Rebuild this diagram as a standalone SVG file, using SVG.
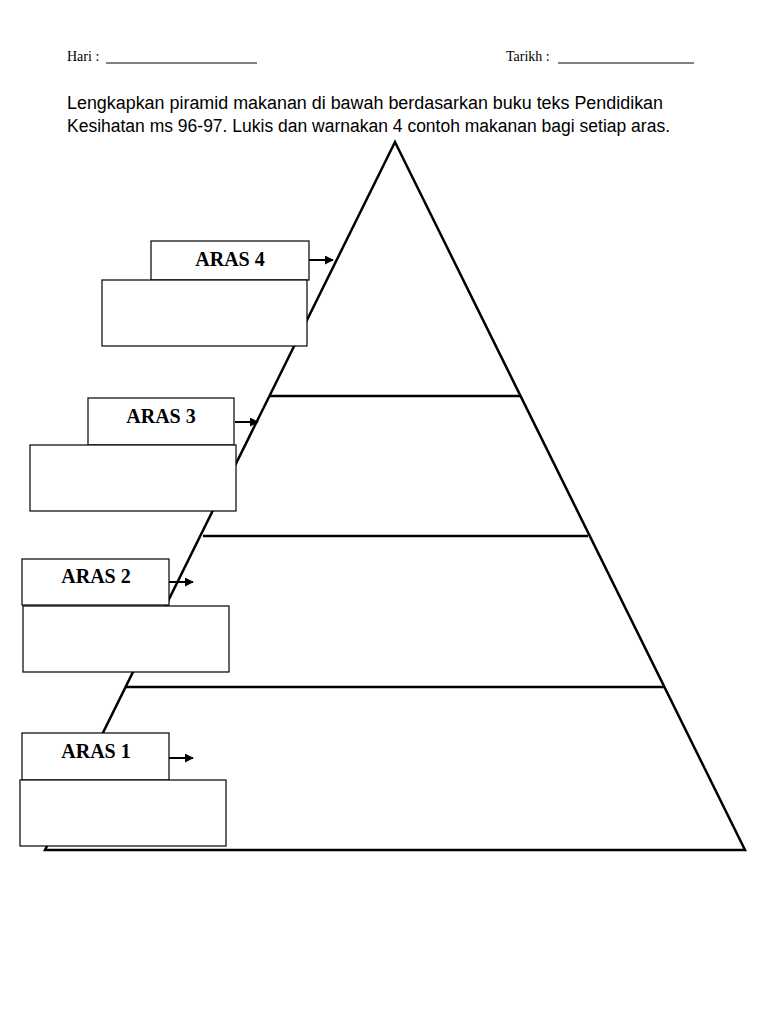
<svg xmlns="http://www.w3.org/2000/svg" width="768" height="1024" viewBox="0 0 768 1024">
<defs>
<style>
.hdr{font-family:"Liberation Serif",serif;font-size:14px;fill:#000}
.ins{font-family:"Liberation Sans",Arial,sans-serif;font-size:18px;fill:#000}
.lbl{font-family:"Liberation Serif",serif;font-size:20px;font-weight:bold;fill:#000;text-anchor:middle}
.box{fill:#fff;stroke:#000;stroke-width:1.2}
.pyr{fill:none;stroke:#000;stroke-width:2.5}
.arr{stroke:#000;stroke-width:2;fill:none}
</style>
<marker id="ah" viewBox="0 0 10 10" refX="9" refY="5" markerWidth="4.5" markerHeight="4.5" orient="auto" markerUnits="strokeWidth">
<path d="M0,0 L10,5 L0,10 Z" fill="#000"/>
</marker>
</defs>
<rect width="768" height="1024" fill="#fff"/>
<g id="header">
<text class="hdr" x="67" y="61">Hari :</text>
<line x1="106" y1="63" x2="257" y2="63" stroke="#000" stroke-width="1"/>
<text class="hdr" x="506" y="61">Tarikh :</text>
<line x1="558" y1="63" x2="694" y2="63" stroke="#000" stroke-width="1"/>
<text class="ins" x="67" y="109" textLength="596" lengthAdjust="spacingAndGlyphs">Lengkapkan piramid makanan di bawah berdasarkan buku teks Pendidikan</text>
<text class="ins" x="67" y="132" textLength="603" lengthAdjust="spacingAndGlyphs">Kesihatan ms 96-97. Lukis dan warnakan 4 contoh makanan bagi setiap aras.</text>
</g>
<g id="pyramid">
<path class="pyr" d="M45,850 L395,142 L745,850 Z"/>
<line class="pyr" x1="269" y1="396" x2="521" y2="396"/>
<line class="pyr" x1="203" y1="536" x2="588" y2="536"/>
<line class="pyr" x1="126" y1="687" x2="664" y2="687"/>
</g>
<g id="connectors">
<line class="arr" x1="309" y1="260" x2="333" y2="260" marker-end="url(#ah)"/>
<line class="arr" x1="235" y1="422" x2="258" y2="422" marker-end="url(#ah)"/>
<line class="arr" x1="169" y1="582" x2="193" y2="582" marker-end="url(#ah)"/>
<line class="arr" x1="169" y1="758" x2="193" y2="758" marker-end="url(#ah)"/>
</g>
<g id="aras4">
<rect class="box" x="151" y="241" width="158" height="39"/>
<rect class="box" x="102" y="280" width="205" height="66"/>
<text class="lbl" x="230" y="266">ARAS 4</text>
</g>
<g id="aras3">
<rect class="box" x="88" y="398" width="146" height="47"/>
<rect class="box" x="30" y="445" width="206" height="66"/>
<text class="lbl" x="161" y="423">ARAS 3</text>
</g>
<g id="aras2">
<rect class="box" x="23" y="606" width="206" height="66"/>
<rect class="box" x="22" y="559" width="147" height="46"/>
<text class="lbl" x="96" y="583">ARAS 2</text>
</g>
<g id="aras1">
<rect class="box" x="22" y="733" width="147" height="47"/>
<rect class="box" x="20" y="780" width="206" height="66"/>
<text class="lbl" x="96" y="758">ARAS 1</text>
</g>
</svg>
